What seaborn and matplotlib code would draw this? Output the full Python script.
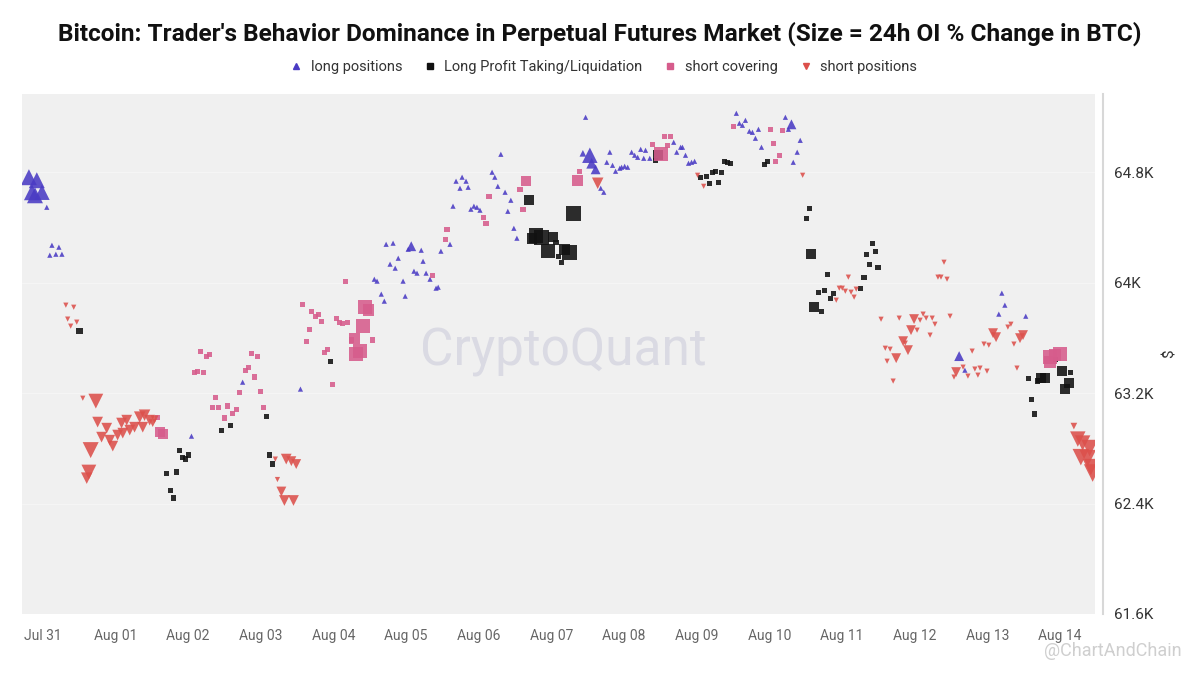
import pandas as pd
import seaborn as sns
import matplotlib.pyplot as plt
import matplotlib.dates as mdates
from matplotlib.lines import Line2D
from matplotlib.ticker import FuncFormatter

# hours since Jul 31 00:00, price in USD, 24h OI % change (size)
long_hours = [-4.6, -2.0, -3.6, -0.3, -2.6, 1.3, 3.0, 5.3, 2.3, 4.3, 6.3, 49.1, 66.0, 85.1,
              113.4, 115.7, 121.7, 120.7, 125.0, 117.4, 114.7, 116.4, 125.6, 122.6, 123.6, 126.6,
              127.9, 119.0, 109.5, 110.4, 111.8, 112.8, 119.7, 129.9, 130.6, 131.5, 134.5, 135.5,
              136.5, 138.5, 139.8, 137.8, 140.5, 141.4, 142.4, 143.4, 144.4, 151.3, 148.4, 149.3,
              150.3, 152.7, 154.6, 153.6, 155.6, 156.6, 179.3, 178.4, 180.7, 181.3, 182.6, 184.3,
              185.3, 187.3, 186.3, 188.2, 189.2, 190.6, 191.2, 192.2, 193.2, 194.5, 195.5, 196.5,
              197.5, 199.1, 198.5, 200.5, 208.4, 209.4, 210.7, 211.3, 212.3, 213.3, 214.3, 215.3,
              229.1, 230.1, 231.1, 232.1, 233.4, 234.4, 236.4, 235.4, 237.4, 245.3, 247.3, 246.3,
              250.2, 249.2, 247.9, 316.8, 317.8, 315.8, 324.7, 302.7, 304.6]
long_price = [64764, 64742, 64655, 64655, 64633, 64546, 64271, 64257, 64199, 64206, 64206, 62888,
              63279, 63229, 64278, 64286, 64264, 64242, 64235, 64177, 64134, 64105, 64155, 64083,
              64069, 64069, 64025, 64011, 64025, 64011, 63917, 63866, 63902, 63960, 63967, 64228,
              64278, 64554, 64735, 64764, 64735, 64684, 64691, 64532, 64554, 64546, 64525, 64930,
              64800, 64764, 64698, 64655, 64597, 64517, 64394, 64322, 65198, 64937, 64923, 64865,
              64821, 64684, 64655, 64945, 64872, 64850, 64807, 64829, 64836, 64843, 64836, 64945,
              64923, 64908, 64966, 64959, 64901, 64901, 65017, 64945, 64981, 64981, 64923, 64865,
              64872, 64879, 65227, 65155, 65140, 65176, 65097, 65089, 65111, 65046, 64981, 65198,
              65147, 65111, 65031, 64945, 64872, 63924, 63837, 63772, 63757, 63468, 63366]
long_oi = [1.5, 1.5, 1.5, 1.4, 1.5, 0.2, 0.2, 0.2, 0.2, 0.2, 0.2, 0.2, 0.2, 0.2,
           0.2, 0.2, 0.6, 0.2, 0.2, 0.2, 0.2, 0.2, 0.2, 0.2, 0.2, 0.2,
           0.2, 0.2, 0.2, 0.2, 0.2, 0.2, 0.2, 0.2, 0.2, 0.2, 0.2, 0.2,
           0.2, 0.2, 0.2, 0.2, 0.2, 0.2, 0.2, 0.2, 0.2, 0.2, 0.2, 0.2,
           0.2, 0.2, 0.2, 0.2, 0.2, 0.2, 0.2, 0.3, 1.4, 0.7, 0.6, 0.2,
           0.2, 0.2, 0.2, 0.2, 0.2, 0.2, 0.2, 0.2, 0.2, 0.2, 0.2, 0.2,
           0.2, 0.2, 0.2, 0.2, 0.2, 0.2, 0.2, 0.2, 0.2, 0.2, 0.2, 0.2,
           0.2, 0.2, 0.2, 0.2, 0.2, 0.2, 0.2, 0.2, 0.2, 0.2, 0.6, 0.2,
           0.2, 0.2, 0.2, 0.2, 0.2, 0.2, 0.2, 0.6, 0.2]

ltp_hours = [12.2, 45.2, 46.2, 47.1, 48.1, 40.9, 44.2, 42.2, 43.2, 59.0, 62.0, 73.9, 74.8, 75.8,
             95.0, 160.6, 162.9, 164.8, 161.6, 168.5, 169.5, 166.8, 174.1, 172.4, 170.4, 171.4,
             175.4, 202.4, 203.1, 217.3, 219.2, 221.2, 222.2, 224.2, 220.2, 223.2, 225.2, 226.2,
             227.2, 238.4, 239.4, 253.2, 252.2, 253.9, 259.1, 256.2, 258.1, 261.1, 260.1, 254.8,
             257.2, 274.0, 272.0, 275.0, 273.0, 275.9, 271.3, 270.0, 325.7, 328.7, 329.7, 331.0,
             326.7, 327.7, 336.6, 339.6, 338.9, 337.6, 334.6]
ltp_price = [63649, 62787, 62736, 62722, 62751, 62620, 62628, 62497, 62440, 62932, 62968, 63033,
             62751, 62686, 63431, 64597, 64344, 64329, 64322, 64329, 64293, 64228, 64221, 64242,
             64192, 64148, 64503, 64887, 64923, 64763, 64771, 64800, 64807, 64800, 64720, 64727,
             64879, 64872, 64865, 64858, 64879, 64539, 64467, 64206, 64061, 63931, 63945, 63924,
             63887, 63822, 63793, 64286, 64206, 64228, 64134, 64112, 64040, 63960, 63308, 63287,
             63308, 63308, 63156, 63048, 63359, 63352, 63272, 63229, 63446]
ltp_oi = [0.3, 0.2, 0.2, 0.2, 0.2, 0.2, 0.2, 0.2, 0.2, 0.2, 0.2, 0.2, 0.2, 0.2,
          0.2, 0.6, 1.3, 1.3, 0.7, 0.6, 0.2, 1.2, 1.3, 0.7, 0.2, 0.2,
          1.3, 0.2, 0.6, 0.2, 0.2, 0.2, 0.2, 0.2, 0.2, 0.2, 0.2, 0.2,
          0.2, 0.2, 0.2, 0.2, 0.2, 0.6, 0.2, 0.2, 0.2, 0.2, 0.2, 0.6,
          0.2, 0.2, 0.2, 0.2, 0.2, 0.2, 0.2, 0.2, 0.2, 0.2, 0.6, 0.6,
          0.2, 0.2, 0.6, 0.2, 0.6, 0.6, 0.2]

cover_hours = [37.9, 39.6, 38.6, 52.1, 54.1, 55.1, 50.1, 51.1, 53.1, 68.9, 70.9, 67.9, 66.9, 69.9,
               65.0, 71.9, 57.0, 56.0, 58.0, 61.0, 63.9, 62.6, 60.0, 72.9, 85.7, 88.7, 90.0, 91.0,
               92.0, 88.0, 87.0, 96.9, 97.9, 98.9, 100.6, 99.9, 106.5, 107.5, 105.8, 108.8, 101.9,
               102.9, 104.8, 103.5, 93.0, 94.0, 95.6, 128.6, 133.5, 132.9, 147.4, 145.7, 146.4,
               159.6, 157.6, 158.6, 176.7, 177.4, 201.4, 205.4, 207.4, 206.4, 204.1, 228.1, 240.3,
               244.3, 241.3, 243.3, 242.0, 332.7, 334.3, 336.0, 332.7]
cover_price = [63026, 62903, 62917, 63504, 63468, 63482, 63352, 63359, 63352, 63489, 63468, 63388,
               63366, 63316, 63207, 63214, 63171, 63098, 63098, 63106, 63084, 63055, 63019, 63098,
               63844, 63793, 63757, 63772, 63721, 63663, 63576, 63743, 63714, 63707, 63714, 64011,
               63822, 63801, 63685, 63584, 63584, 63598, 63504, 63482, 63497, 63518, 63265, 64054,
               64387, 64315, 64626, 64474, 64431, 64735, 64677, 64532, 64742, 64807, 65002, 65060,
               65060, 64995, 64930, 65133, 65111, 65104, 65010, 64923, 64879, 63460, 63475, 63482,
               63424]
cover_oi = [0.2, 0.6, 0.6, 0.2, 0.2, 0.2, 0.2, 0.2, 0.2, 0.2, 0.2, 0.2, 0.2, 0.2,
            0.2, 0.2, 0.2, 0.2, 0.2, 0.2, 0.2, 0.2, 0.2, 0.2, 0.2, 0.2, 0.2, 0.2,
            0.2, 0.2, 0.2, 0.2, 0.2, 0.2, 0.2, 0.2, 1.2, 0.8, 1.2, 0.2, 0.2,
            0.7, 1.2, 1.2, 0.2, 0.2, 0.2, 0.2, 0.2, 0.2, 0.2, 0.2, 0.2,
            0.6, 0.2, 0.2, 0.7, 0.2, 0.2, 0.2, 0.2, 0.2, 1.2, 0.2, 0.2,
            0.2, 0.2, 0.2, 0.2, 1.2, 0.8, 1.2, 0.8]

short_hours = [7.6, 10.2, 8.2, 9.2, 11.2, 13.2, 17.5, 18.1, 21.1, 19.4, 22.1, 23.1, 24.7, 26.0,
               27.7, 26.4, 28.7, 30.3, 32.0, 33.6, 33.0, 35.3, 36.3, 36.9, 15.8, 15.2, 14.5, 76.8,
               80.4, 82.1, 83.7, 77.5, 78.8, 79.8, 82.8, 183.3, 216.3, 218.3, 251.0, 266.1, 263.1,
               264.1, 265.1, 267.0, 268.0, 268.7, 262.1, 297.7, 295.7, 296.7, 298.7, 276.9, 282.9,
               287.8, 289.8, 290.8, 291.8, 293.8, 294.7, 299.7, 286.8, 288.8, 293.1, 284.2, 284.9,
               285.8, 278.3, 279.9, 281.9, 278.9, 280.9, 307.0, 301.7, 301.0, 304.0, 305.6, 307.9,
               308.9, 309.6, 311.9, 310.9, 312.5, 313.9, 314.9, 318.8, 319.8, 320.8, 322.8, 323.8,
               321.8, 340.6, 341.9, 343.5, 345.8, 342.9, 345.2, 346.2, 346.8]
short_price = [63837, 63822, 63736, 63685, 63714, 63163, 63142, 62990, 62946, 62881, 62859, 62816,
               62896, 62983, 63004, 62910, 62932, 62953, 63026, 63040, 62953, 63004, 62983, 63010,
               62787, 62628, 62584, 62722, 62722, 62707, 62686, 62574, 62487, 62422, 62422, 64720,
               64778, 64698, 64778, 64040, 63960, 63960, 63938, 63931, 63895, 63953, 63873, 64148,
               64040, 64040, 64025, 63735, 63743, 63736, 63728, 63772, 63743, 63743, 63699, 63757,
               63656, 63656, 63620, 63576, 63562, 63511, 63525, 63518, 63453, 63431, 63287, 63504,
               63352, 63316, 63388, 63323, 63374, 63330, 63381, 63359, 63555, 63547, 63634, 63605,
               63678, 63699, 63555, 63598, 63620, 63381, 62961, 62867, 62838, 62802, 62736, 62729,
               62664, 62621]
short_oi = [0.2, 0.2, 0.2, 0.2, 0.2, 0.2, 1.3, 0.7, 0.7, 0.7, 0.7, 0.7, 0.7, 0.7,
            0.7, 0.7, 0.7, 0.7, 0.8, 0.8, 0.7, 0.7, 0.4, 0.4, 1.5, 1.3, 0.8, 0.2,
            0.7, 0.6, 0.6, 0.2, 0.6, 0.7, 0.7, 0.8, 0.2, 0.2, 0.2, 0.2, 0.2,
            0.2, 0.2, 0.2, 0.2, 0.2, 0.2, 0.2, 0.2, 0.2, 0.2, 0.2, 0.2,
            0.6, 0.2, 0.2, 0.2, 0.2, 0.2, 0.2, 0.6, 0.2, 0.2, 0.6, 0.2,
            0.6, 0.2, 0.2, 0.6, 0.2, 0.2, 0.2, 0.6, 0.2, 0.2, 0.2, 0.2,
            0.2, 0.2, 0.2, 0.2, 0.2, 0.6, 0.6, 0.2, 0.2, 0.2, 0.6, 0.6,
            0.2, 0.3, 1.4, 1.4, 1.6, 1.6, 1.6, 1.6, 1.8]

labels = ['long positions', 'Long Profit Taking/Liquidation', 'short covering', 'short positions']
colors = ['#4a3bc4', '#111111', '#d65c8c', '#dc504b']
markers = ['^', 's', 's', 'v']
y_ticks = [61600, 62400, 63200, 64000, 64800]
start = pd.Timestamp('2024-07-31')


def build_frame():
    """stacks the four behaviour groups into one long dataframe."""
    parts = []
    for label, hrs, price, oi in zip(labels,
                                     [long_hours, ltp_hours, cover_hours, short_hours],
                                     [long_price, ltp_price, cover_price, short_price],
                                     [long_oi, ltp_oi, cover_oi, short_oi]):
        parts.append(pd.DataFrame({
            'time': start + pd.to_timedelta(hrs, unit='h'),
            'price': price,
            'oi_change': oi,
            'behavior': label,
        }))
    return pd.concat(parts, ignore_index=True)


def behaviour_scatter(df):
    sns.set_style('white')
    plt.rcParams['font.family'] = ['Roboto', 'DejaVu Sans']

    fig = plt.figure(figsize=(12, 6.75), dpi=100)
    ax = fig.add_axes([0.0183, 0.0904, 0.894, 0.770])
    ax.set_facecolor('#f0f0f0')

    ax.text(0.505, 0.505, 'CryptoQuant', transform=ax.transAxes, ha='center', va='center',
            fontsize=37, color='#dadae3', zorder=0)

    sns.scatterplot(data=df, x='time', y='price', hue='behavior', style='behavior',
                    size='oi_change', palette=dict(zip(labels, colors)),
                    markers=dict(zip(labels, markers)), hue_order=labels, style_order=labels,
                    sizes=(14, 160), size_norm=(0.2, 1.8), linewidth=0, alpha=0.88,
                    legend=False, ax=ax, zorder=3)

    ax.set_xlim(start - pd.Timedelta(hours=6.9), start + pd.Timedelta(hours=347.5))
    ax.set_ylim(61600, 65365)

    ax.xaxis.set_major_locator(mdates.DayLocator())
    ax.xaxis.set_major_formatter(mdates.DateFormatter('%b %d'))
    ax.tick_params(axis='x', colors='#dddddd', labelcolor='#666666', labelsize=10,
                   length=5, width=0.8, pad=6)

    ax.yaxis.tick_right()
    ax.yaxis.set_label_position('right')
    ax.set_yticks(y_ticks)
    ax.yaxis.set_major_formatter(FuncFormatter(lambda v, p: f'{v / 1000:g}K'))
    ax.tick_params(axis='y', length=0, labelsize=11, labelcolor='#333333', pad=8)
    ax.set_ylabel('$', fontsize=11, color='#333333', rotation=90, labelpad=6)
    ax.set_xlabel('')

    ax.grid(axis='y', color='#f5f5f5', linewidth=1.0, zorder=1)
    ax.set_axisbelow(True)
    for side in ['top', 'left', 'bottom']:
        ax.spines[side].set_visible(False)
    ax.spines['right'].set_position(('outward', 6))
    ax.spines['right'].set_color('#d8d8d8')
    ax.spines['right'].set_linewidth(1.5)

    handles = [Line2D([], [], marker=m, linestyle='', color=c, markersize=4.5, label=l)
               for l, c, m in zip(labels, colors, markers)]
    fig.legend(handles=handles, loc='center', bbox_to_anchor=(0.503, 0.9), ncol=4,
               frameon=False, fontsize=10.5, handlelength=0.8, handletextpad=0.6,
               columnspacing=1.5, labelcolor='#333333')

    fig.suptitle("Bitcoin: Trader's Behavior Dominance in Perpetual Futures Market "
                 "(Size = 24h OI % Change in BTC)", y=0.968, fontsize=17.6, fontweight='bold',
                 color='#111111')

    fig.text(0.985, 0.035, '@ChartAndChain', ha='right', va='center', fontsize=13,
             color='#cfcfcf')

    plt.savefig('out.png', dpi=100)
    plt.close()


behaviour_scatter(build_frame())
